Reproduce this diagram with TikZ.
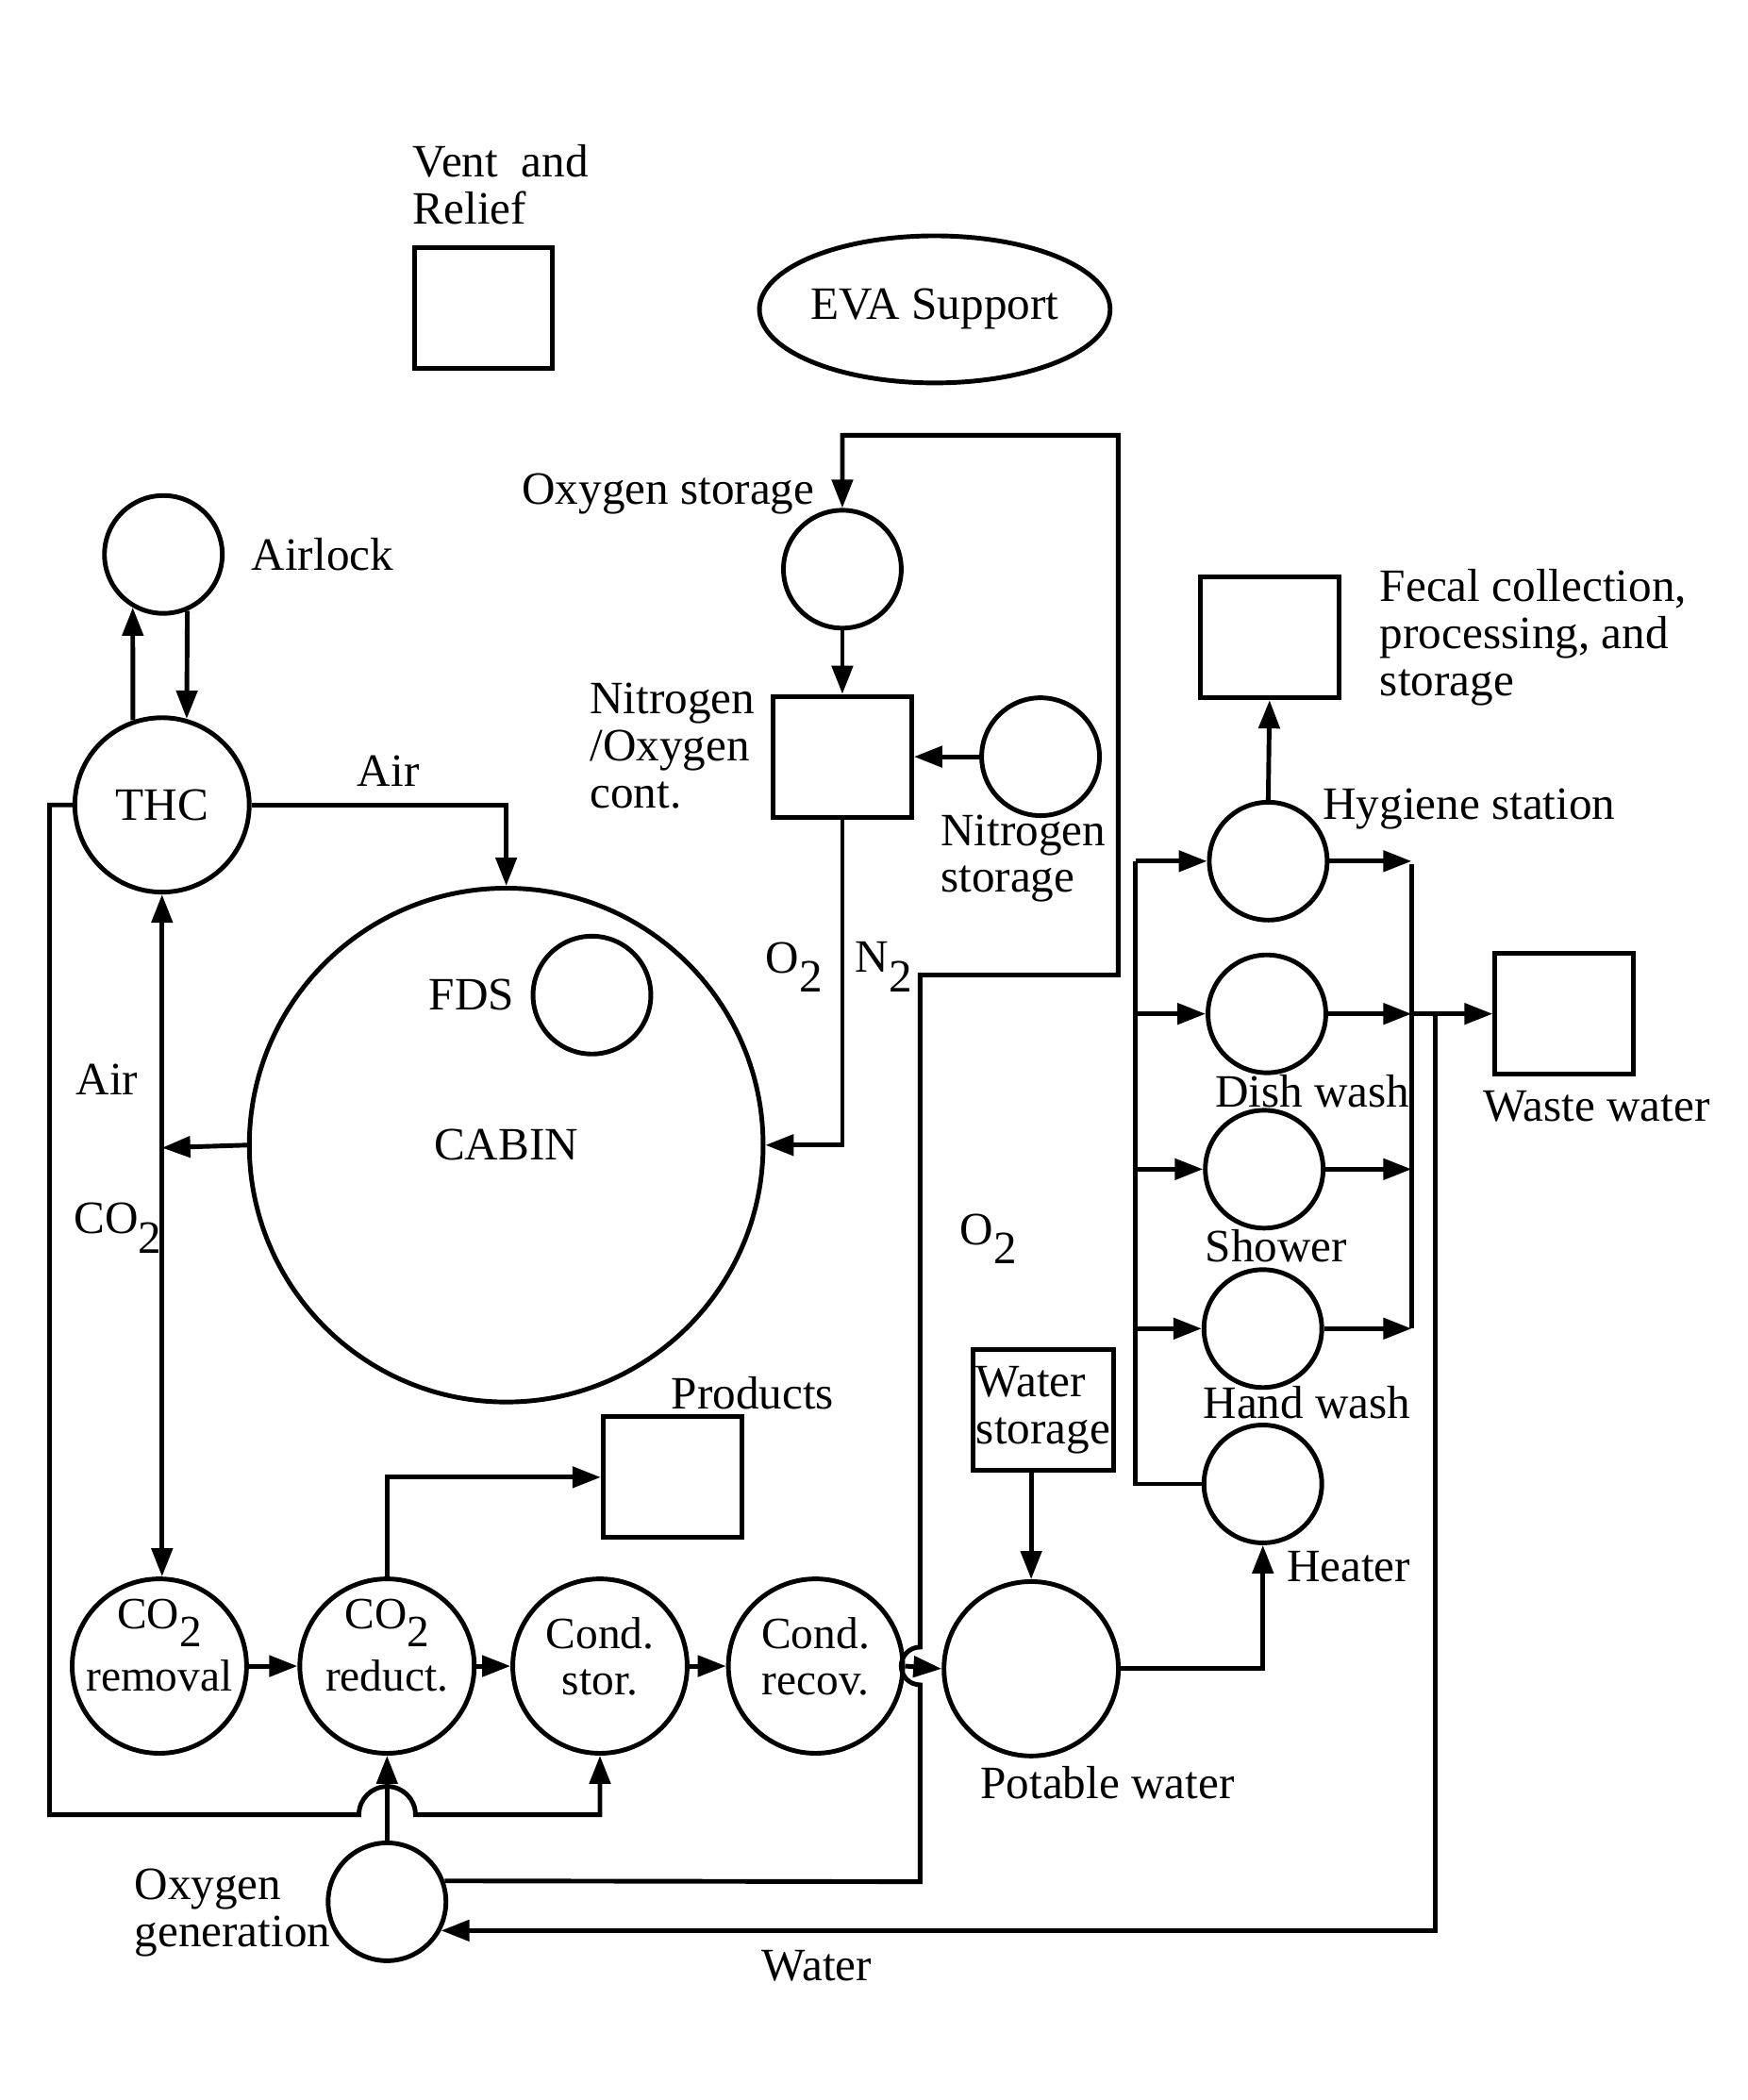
\documentclass[tikz,border=0pt]{standalone}
\usepackage{fontspec}
\setmainfont{Liberation Serif}
\usetikzlibrary{positioning,shapes.geometric,arrows.meta}
\newcommand\lowtwo{\raisebox{-0.9ex}{2}}

\begin{document}
\begin{tikzpicture}[
	x=0.0142cm, y=-0.0142cm,
	font=\fontsize{14}{14.2}\selectfont,
	unit/.style={circle, draw, line width=1.4pt, minimum size=1.25cm, inner sep=0pt},
	bigunit/.style={unit, minimum size=1.85cm},
	intext/.style={inner sep=0pt, align=center, font=\fontsize{13.5}{14}\selectfont},
	block/.style={rectangle, draw, line width=1.4pt, minimum width=1.47cm, minimum height=1.28cm},
	line/.style={draw, line width=1.4pt, -{Triangle[length=3mm, width=2.2mm]}},
	pipe/.style={draw, line width=1.4pt},
	lbl/.style={inner sep=0pt, align=left},
	]
	\useasboundingbox (0,0) rectangle (1305,1568);

	\node[block] (vent) at (361,230) {};
	\node[lbl, anchor=west] (ventl) at (308,138) {Vent\ \ and\\Relief};
	\node[ellipse, draw, line width=1.4pt, inner sep=0pt, inner xsep=-8pt, minimum width=3.72cm, minimum height=1.56cm] (eva) at (698,231) {EVA Support};

	\node[unit] (ostor) at (629,425) {};
	\node[lbl] (ostorl) at (499,369) {Oxygen storage};
	\node[block] (noc) at (629,565) {};
	\node[lbl, anchor=west] (nocl) at (440,557) {Nitrogen\\/Oxygen\\cont.};
	\node[unit] (nstor) at (777,565) {};
	\node[lbl, anchor=west] (nstorl) at (702,641) {Nitrogen\\storage};

	\node[unit] (airlock) at (122,414) {};
	\node[lbl, right=2.8mm of airlock] (airlockl) {Airlock};
	\node[bigunit] (thc) at (121,601) {THC};
	\node[lbl] (airtop) at (290,576) {Air};
	\node[unit, minimum size=5.45cm] (cabin) at (378,855) {CABIN};
	\node[unit] (fds) at (442,743) {};
	\node[lbl, left=1.7mm of fds] (fdsl) {FDS};
	\node[lbl] (airleft) at (80,806) {Air};
	\node[lbl] (coleft) at (88,917) {CO\lowtwo};
	\node[lbl] (otwo) at (593,722) {O\lowtwo};
	\node[lbl] (ntwo) at (660,722) {N\lowtwo};
	\node[lbl] (otwomid) at (738,925) {O\lowtwo};

	\node[bigunit] (corem) at (119,1244) {};
	\node[intext] (coreml) at ([yshift=0.22cm]corem.center) {CO\lowtwo\\[3pt]removal};
	\node[bigunit] (cored) at (289,1244) {};
	\node[intext] (coredl) at ([yshift=0.22cm]cored.center) {CO\lowtwo\\[3pt]reduct.};
	\node[bigunit] (cstor) at (448,1244) {};
	\node[intext] (cstorl) at ([yshift=0.1cm]cstor.center) {Cond.\\stor.};
	\node[bigunit] (crec) at (609,1244) {};
	\node[intext] (crecl) at ([yshift=0.1cm]crec.center) {Cond.\\recov.};
	\node[bigunit] (potw) at (770,1246) {};
	\node[lbl] (potwl) at (827,1331) {Potable water};
	\node[block] (prod) at (502,1103) {};
	\node[lbl] (prodl) at (562,1040) {Products};
	\node[block, align=left, inner xsep=1pt] (wstor) at (779,1053) {Water\\storage};
	\node[unit] (ogen) at (289,1420) {};
	\node[lbl, anchor=west] (ogenl) at (100,1428) {Oxygen\\generation};
	\node[lbl] (waterl) at (610,1468) {Water};

	\node[block] (fecal) at (948,476) {};
	\node[lbl, anchor=west] (fecall) at (1030,476) {Fecal collection,\\processing, and\\storage};
	\node[unit] (hyg) at (947,643) {};
	\node[lbl] (hygl) at (1097,604) {Hygiene station};
	\node[unit] (dish) at (946,757) {};
	\node[lbl] (dishl) at (980,815) {Dish wash};
	\node[unit] (shower) at (944,873) {};
	\node[lbl] (showerl) at (953,930) {Shower};
	\node[unit] (hand) at (943,992) {};
	\node[lbl] (handl) at (976,1047) {Hand wash};
	\node[unit] (heater) at (943,1108) {};
	\node[lbl] (heaterl) at (1007,1170) {Heater};
	\node[block] (waste) at (1168,757) {};
	\node[lbl] (wastel) at (1192,826) {Waste water};

	\coordinate (airj) at (121,857);
	\coordinate (dtop) at (848,643);
	\coordinate (ctop) at (1054,645);
	\coordinate (wj) at (1072,757);

	%connections
	\path[line] (thc.109) -- (airlock.240);
	\path[line] (airlock.293) -- (thc.74);
	\path[line] (thc.east) -| (cabin.north);
	\path[line] (cabin.west) -- (airj);
	\path[line] (airj) -- (airj |- thc.south);
	\path[line] (airj) -- (airj |- corem.north);
	\path[line] (ostor.south) -- (noc.north);
	\path[line] (nstor.west) -- (noc.east);
	\path[line] (noc.south) |- (cabin.east);
	\path[line] (corem.east) -- (cored.west);
	\path[line] (cored.east) -- (cstor.west);
	\path[line] (cstor.east) -- (crec.west);
	\path[line] (crec.east) -- (potw.west);
	\path[line] (cored.north) |- (prod.west);
	\path[line] (ogen.north) -- (cored.south);
	\path[line] (thc.west) -- (37,601) |- (268,1355) arc[start angle=180, end angle=0, radius=0.3cm] -| (cstor.south);
	\path[line] (ogen.20) -- (687,1405) -- (687,1258) arc[start angle=270, end angle=90, radius=0.2cm] -- (687,728) -- (835,728) -- (835,325) -| (ostor.north);
	\path[line] (wj) |- (ogen.-28);
	\path[line] (wstor.south -| potw.north) -- (potw.north);
	\path[line] (potw.east) -| (heater.south);
	\path[pipe] (heater.west) -- (dtop |- heater.west) -- (dtop);
	\foreach \n in {hyg,dish,shower,hand}{
		\path[line] (dtop |- \n.west) -- (\n.west);
		\path[line] (\n.east) -- (\n.east -| ctop);
	}
	\path[pipe] (ctop) -- (ctop |- hand.east);
	\path[line] (dish.east -| ctop) -- (waste.west);
	\path[line] (hyg.north) -- (fecal.south);
\end{tikzpicture}
\end{document}
